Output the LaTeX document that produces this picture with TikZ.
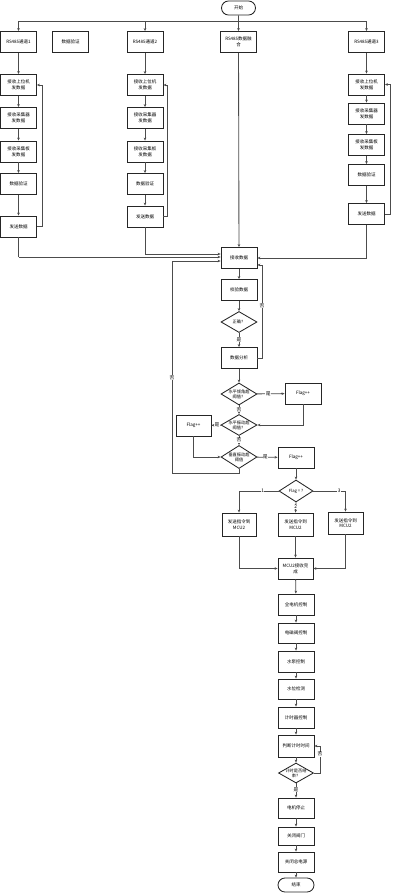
\documentclass[tikz,border=0pt]{standalone}
\usepackage{fontspec}
\setmainfont{Noto Sans CJK SC}
\usetikzlibrary{shapes.geometric,shapes.misc,arrows.meta}
\begin{document}
\begin{tikzpicture}[x=1pt,y=-1pt,
  txt/.style={font=\fontsize{4.5}{5.6}\selectfont},
  box/.style={draw=black!85, line width=0.85pt, minimum width=36pt, minimum height=21pt, inner sep=0.5pt, align=center, txt},
  term/.style={draw=black!85, line width=0.85pt, rounded rectangle, minimum width=34pt, minimum height=14pt, inner sep=0pt, txt},
  dia/.style={draw=black!85, line width=0.85pt, diamond, minimum width=36pt, minimum height=21pt, inner sep=0pt},
  dtext/.style={font=\fontsize{4.2}{5}\selectfont, align=center, inner sep=0pt},
  lbl/.style={font=\fontsize{4.8}{5.6}\selectfont, fill=white, inner sep=0.4pt},
  arr/.style={draw=black!70, line width=0.85pt, -{Stealth[length=3pt,width=2.6pt]}},
  ln/.style={draw=black!70, line width=0.85pt}
]
\fill[white] (0,0) rectangle (401,893);
\useasboundingbox (0,0) rectangle (401,893);

% top
\node[term] (start) at (238.5,8) {开始};
\coordinate (bus) at (238.5,21);
\node[box] (c1a) at (18.5,42) {RS485通道1};
\node[box] (iso) at (70.5,42) {数据验证};
\node[box] (c2a) at (145,42) {RS485通道2};
\node[box] (mid) at (238.5,42) {RS485数据融\\合};
\node[box] (c3a) at (366.5,42) {RS485通道3};

% column 1
\node[box] (c1b) at (18.5,85) {接收上位机\\发数据};
\node[box] (c1c) at (18.5,118) {接收采集器\\发数据};
\node[box] (c1d) at (18.5,151.5) {接收采集板\\发数据};
\node[box] (c1e) at (18.5,184) {数据验证};
\node[box] (c1f) at (18.5,226.5) {发送数据};
% column 2
\node[box] (c2b) at (145,85) {接收上位机\\发数据};
\node[box] (c2c) at (145,118) {接收采集器\\发数据};
\node[box] (c2d) at (145,151.5) {接收采集板\\发数据};
\node[box] (c2e) at (145,184) {数据验证};
\node[box] (c2f) at (145,216.5) {发送数据};
% column 3
\node[box] (c3b) at (366.5,84.5) {接收上位机\\发数据};
\node[box] (c3c) at (366.5,113.5) {接收采集器\\发数据};
\node[box] (c3d) at (366.5,145) {接收采集板\\发数据};
\node[box] (c3e) at (366.5,175) {数据验证};
\node[box] (c3f) at (366.5,214) {发送数据};

% main column
\node[box] (recv) at (239,258) {接收数据};
\node[box] (chk) at (239,290) {校验数据};
\node[dia] (d0) at (239,322) {};
\node[dtext] at (d0) {正确？};
\node[box] (ana) at (239,358) {数据分析};
\node[dia, minimum height=22pt] (d1) at (239,394) {};
\node[dtext] at (d1) {水平倾角超\\阈值？};
\node[box] (f1) at (303,393.5) {Flag++};
\node[dia] (d2) at (239,425) {};
\node[dtext] at (d2) {水平振动超\\阈值？};
\node[box, minimum width=35pt] (f2) at (193.5,425.5) {Flag++};
\node[dia, minimum height=23pt] (d3) at (239,457) {};
\node[dtext] at (d3) {垂直振动超\\阈值};
\node[box] (f3) at (296,457.5) {Flag++};
\node[dia, minimum width=34pt, minimum height=22pt] (dF) at (296,491) {};
\node[dtext] at (dF) {Flag = ?};
\node[box, minimum width=34pt, minimum height=23pt] (m1) at (239,524.5) {发送指令到\\MCU2};
\node[box, minimum width=35pt, minimum height=23pt] (m2) at (295.5,524.5) {发送指令到\\MCU2};
\node[box, minimum width=35pt, minimum height=22pt] (m3) at (345.5,523) {发送指令到\\MCU2};
\node[box, minimum width=35pt] (done) at (295.5,568.5) {MCU2接收完\\成};
\node[box] (ba) at (296,604.5) {全电机控制};
\node[box, minimum height=20pt] (bb) at (296,633) {电磁阀控制};
\node[box] (bc) at (296,661.5) {水泵控制};
\node[box, minimum height=20pt] (bd) at (296,689) {水位检测};
\node[box] (be) at (296,717.5) {计时器控制};
\node[box, minimum height=22pt] (bf) at (296,746) {判断计时时间};
\node[dia, minimum width=35pt, minimum height=20pt] (dT) at (296,773) {};
\node[dtext] at (dT) {计时是否结\\束？};
\node[box, minimum height=20pt] (bg) at (296,808) {电机停止};
\node[box, minimum height=18pt] (bh) at (296,836) {关闭阀门};
\node[box, minimum height=20pt] (bi) at (296,862) {关闭总电源};
\node[term, minimum width=36pt] (stop) at (296,885) {结束};

% top connectors
\draw[arr] (start) -- (mid);
\draw[arr] (bus) -| (c1a);
\draw[arr] (bus) -| (c2a);
\draw[arr] (bus) -| (c3a);

% column chains
\foreach \c in {1,2,3}{
  \draw[arr] (c\c a) -- (c\c b);
  \draw[arr] (c\c b) -- (c\c c);
  \draw[arr] (c\c c) -- (c\c d);
  \draw[arr] (c\c d) -- (c\c e);
  \draw[arr] (c\c e) -- (c\c f);
}
\draw[arr] (c1f.east) -- ++(5,0) |- (c1b.east);
\draw[arr] (c2f.east) -- ++(4,0) |- (c2b.east);
\draw[arr] (c3f.east) -- ++(5,0) |- (c3b.east);

% to receive
\coordinate (j1) at (18.5,257);
\coordinate (j2) at (145,254);
\coordinate (j3) at (366.5,258);
\draw[ln] (c1f) -- (j1);
\draw[arr] (j1) -- ([yshift=1pt]recv.west);
\draw[ln] (c2f) -- (j2);
\draw[arr] (j2) -- ([yshift=4pt]recv.west);
\draw[ln] (c3f) -- (j3);
\draw[arr] (j3) -- (recv.east);
\draw[arr] (mid) -- (recv);

% main flow
\draw[arr] (recv) -- (chk);
\draw[arr] (chk) -- (d0);
\draw[arr] (d0) -- node[lbl, pos=0.45] {是} (ana);
\coordinate (r0) at (262,358);
\draw[arr] (ana.east) -- (r0) |- node[lbl, pos=0.28] {否} ([yshift=4pt]recv.south east);
\draw[arr] (ana) -- (d1);
\draw[arr] (d1) -- node[lbl, pos=0.4] {是} (f1);
\draw[arr] (d1) -- node[lbl, pos=0.45] {否} (d2);
\draw[arr] (f1.south) |- (d2.east);
\draw[arr] (d2) -- node[lbl, pos=0.4] {是} (f2);
\draw[arr] (d2) -- node[lbl, pos=0.45] {否} (d3);
\draw[arr] (f2.south) |- (d3.west);
\draw[arr] (d3) -- node[lbl, pos=0.4] {是} (f3);
\coordinate (lpa) at (239,473);
\coordinate (lpb) at (172,473);
\coordinate (lpc) at (172,261);
\draw[ln] (d3.south) -- (lpa) -- (lpb) -- node[lbl, pos=0.45] {否} (lpc);
\draw[arr] (lpc) -- ([yshift=-3pt]recv.west);
\draw[arr] (f3) -- (dF);
\draw[arr] (dF.west) -| node[lbl, pos=0.2] {1} (m1.north);
\draw[arr] (dF.south) -- node[lbl, pos=0.45] {2} (m2.north);
\draw[arr] (dF.east) -| node[lbl, pos=0.4] {3} (m3.north);
\draw[arr] (m1.south) |- (done.west);
\draw[arr] (m2) -- (done);
\draw[arr] (m3.south) |- (done.east);
\draw[arr] (done) -- (ba);
\draw[arr] (ba) -- (bb);
\draw[arr] (bb) -- (bc);
\draw[arr] (bc) -- (bd);
\draw[arr] (bd) -- (be);
\draw[arr] (be) -- (bf);
\draw[arr] (bf) -- (dT);
\draw[arr] (dT.east) -- ++(6,0) |- node[lbl, pos=0.35] {否} (bf.east);
\draw[arr] (dT) -- node[lbl, pos=0.45] {是} (bg);
\draw[arr] (bg) -- (bh);
\draw[arr] (bh) -- (bi);
\draw[arr] (bi) -- (stop);
\end{tikzpicture}
\end{document}
